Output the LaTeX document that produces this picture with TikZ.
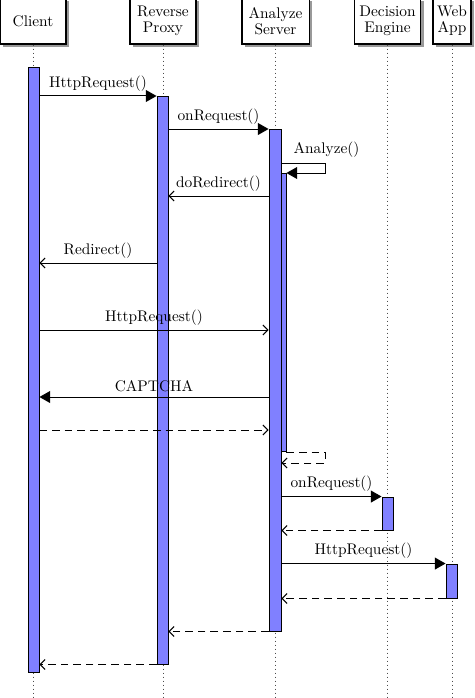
\documentclass[tikz,border=0pt]{standalone}
\usetikzlibrary{arrows.meta,shadows,fit}
\begin{document}
\begin{tikzpicture}[x=0.65pt,y=-0.65pt,
  hdr/.style={draw=black,line width=0.7pt,fill=white,align=center,inner sep=0pt,
    minimum height=29.9pt,font=\fontsize{10}{10.4}\selectfont,
    drop shadow={shadow xshift=2.2pt,shadow yshift=-2.2pt,fill=black!40,opacity=1}},
  lifeline/.style={dotted,black!70,line width=0.6pt},
  bar/.style={draw=black,line width=0.6pt,fill={rgb,255:red,128;green,128;blue,255},inner sep=0pt},
  msg/.style={line width=0.65pt},
  sync/.style={msg,-{Triangle[length=7pt,width=7.8pt]}},
  call/.style={msg,-{Straight Barb[length=3.2pt,width=6.5pt]}},
  ret/.style={msg,dash pattern=on 5pt off 3.2pt,-{Straight Barb[length=3.2pt,width=6.5pt]}},
  lbl/.style={above,inner sep=3pt}
]
\useasboundingbox (0,0) rectangle (474,698);
% headers
\node[hdr,minimum width=42.9pt] (client) at (33,21) {Client};
\node[hdr,minimum width=42.9pt] (proxy) at (163,21) {Reverse\\Proxy};
\node[hdr,minimum width=43.6pt] (server) at (275.5,21) {Analyze\\Server};
\node[hdr,minimum width=42.9pt] (engine) at (387.5,21) {Decision\\Engine};
\node[hdr,minimum width=24.7pt] (web) at (452,21) {Web\\App};
\coordinate (bot) at (0,698);
% lifelines
\draw[lifeline] (client.south) -- (client.south |- bot);
\draw[lifeline] (proxy.south) -- (proxy.south |- bot);
\draw[lifeline] (server.south) -- (server.south |- bot);
\draw[lifeline] (engine.south) -- (engine.south |- bot);
\draw[lifeline] (web.south) -- (web.south |- bot);
% activation bars
\node[bar,fit={(28,67) (39,672)}] (cb) {};
\node[bar,fit={(157,96) (168,664)}] (pb) {};
\node[bar,fit={(269,129) (281,631)}] (sb) {};
\node[bar,fit={(281,173) (286,451)}] (nb) {};
\node[bar,fit={(382,497) (393,530)}] (eb) {};
\node[bar,fit={(446,564) (457,598)}] (wb) {};
% messages
\draw[sync] (cb.east |- 0,96) -- node[lbl] {HttpRequest()} (pb.west |- 0,96);
\draw[sync] (pb.east |- 0,129) -- node[lbl] {onRequest()} (sb.west |- 0,129);
\coordinate (s1) at (325,163);
\coordinate (s2) at (325,173);
\draw[sync] (sb.east |- s1) -- (s1) -- (s2) -- (nb.east |- s2);
\node (alab) at (326.5,150) {Analyze()};
\draw[call] (sb.west |- 0,196) -- node[lbl] {doRedirect()} (pb.east |- 0,196);
\draw[call] (pb.west |- 0,263) -- node[lbl] {Redirect()} (cb.east |- 0,263);
\draw[call] (cb.east |- 0,330) -- node[lbl] {HttpRequest()} (sb.west |- 0,330);
\draw[sync] (sb.west |- 0,397) -- node[lbl] {CAPTCHA} (cb.east |- 0,397);
\draw[ret] (cb.east |- 0,430) -- (sb.west |- 0,430);
\coordinate (r1) at (325,452);
\coordinate (r2) at (325,463);
\draw[ret] (nb.east |- r1) -- (r1) -- (r2) -- (sb.east |- r2);
\draw[sync] (sb.east |- eb.north) -- node[lbl] {onRequest()} (eb.north west);
\draw[ret] (eb.south west) -- (sb.east |- eb.south);
\draw[sync] (sb.east |- wb.north) -- node[lbl] {HttpRequest()} (wb.north west);
\draw[ret] (wb.south west) -- (sb.east |- wb.south);
\draw[ret] (sb.south west) -- (pb.east |- sb.south);
\draw[ret] (pb.south west) -- (cb.east |- pb.south);
\end{tikzpicture}
\end{document}
